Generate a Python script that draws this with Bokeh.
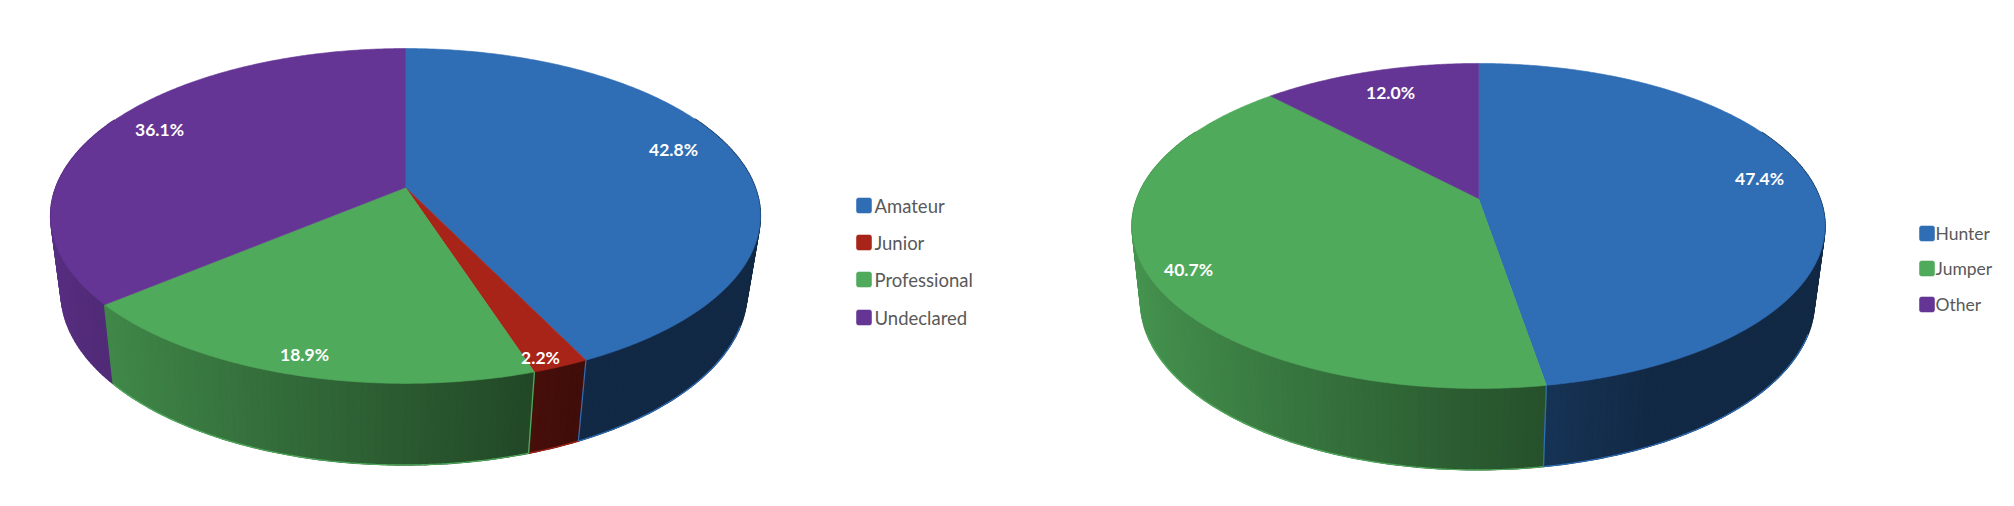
import numpy as np
from bokeh.plotting import figure
from bokeh.core.properties import value
from bokeh.embed import file_html
from bokeh.resources import INLINE

# ---- data ----
left_categories = ["Amateur", "Junior", "Professional", "Undeclared"]
left_values = [42.8, 2.2, 18.9, 36.1]
right_categories = ["Hunter", "Jumper", "Other"]
right_values = [47.4, 40.7, 12.0]

BLUE = (47, 109, 181)
RED = (168, 35, 24)
GREEN = (80, 170, 91)
PURPLE = (100, 53, 148)
left_colors = [BLUE, RED, GREEN, PURPLE]
right_colors = [BLUE, GREEN, PURPLE]


def hexc(c, f=1.0):
    return "#%02x%02x%02x" % tuple(int(min(255, round(x * f))) for x in c)


# ---- layout: perspective of each pie, in page pixels ----
left_geom = dict(x=405.0, y=187.0, a=349.7, b=130.8, k=-0.170,
                 x2=403.5, y2=262.3, a2=338.0, b2=123.2)
right_geom = dict(x=1478.0, y=198.0, a=341.5, b=124.4, k=-0.169,
                  x2=1477.0, y2=273.0, a2=332.0, b2=117.0)
left_label_pos = [(673, 149), (540, 357), (304, 354), (159, 129)]
right_label_pos = [(1759, 178), (1188, 269), (1390, 92)]
left_legend = dict(sw=856, tx=874, ys=[205, 242, 279, 317], size="18.5px")
right_legend = dict(sw=1919, tx=1935, ys=[233, 268, 304], size="17.5px")
left_edge_colors = [BLUE, GREEN, None]
right_edge_colors = [BLUE, None]

W, H = 2000, 498
p = figure(width=W, height=H, x_range=(0, W), y_range=(H, 0),
           output_backend="svg", toolbar_location=None, min_border=0,
           background_fill_color="white", border_fill_color="white",
           outline_line_color=None)
p.axis.visible = False
p.grid.visible = False


def project(g, t, r=1.0, level="top"):
    u, v = r * np.sin(t), -r * np.cos(t)
    d = 1 + g["k"] * v
    if level == "top":
        return g["x"] + g["a"] * u / d, (g["y"] + g["b"] * v) / d
    return g["x2"] + g["a2"] * u / d, (g["y2"] + g["b2"] * v) / d


def shade(t):
    return float(np.clip(0.53 - 0.354 * np.sin(t), 0.38, 0.9))


def draw_pie(values, colors, g, edges, labels, label_pos, cats, leg):
    vals = np.asarray(values, dtype=float)
    bounds = 2 * np.pi * np.concatenate([[0], np.cumsum(vals)]) / vals.sum()

    # side wall, in strips from the back to the front
    strips = []
    for i, c in enumerate(colors):
        n = max(2, int(np.degrees(bounds[i + 1] - bounds[i])))
        ts = np.linspace(bounds[i], bounds[i + 1], n + 1)
        for t0, t1 in zip(ts[:-1], ts[1:]):
            tm = (t0 + t1) / 2
            if -np.cos(tm) < -0.45:
                continue
            x0, y0 = project(g, t0)
            x1, y1 = project(g, t1)
            x3, y3 = project(g, t1, level="bottom")
            x2, y2 = project(g, t0, level="bottom")
            strips.append((-np.cos(tm), [x0, x1, x3, x2], [y0, y1, y3, y2],
                           hexc(c, shade(tm))))
    strips.sort(key=lambda s: s[0])
    p.patches([s[1] for s in strips], [s[2] for s in strips],
              fill_color=[s[3] for s in strips],
              line_color=[s[3] for s in strips], line_width=1.5)

    # lit lower rim of the wall
    for i, c in enumerate(colors):
        if c == PURPLE:
            continue
        ts = np.linspace(bounds[i], bounds[i + 1], 200)
        ts = ts[-np.cos(ts) > 0.35]
        if len(ts) > 1:
            x, y = project(g, ts, level="bottom")
            p.line(x, y, line_color=hexc(c), line_width=1.2)

    # lit edges between wall sections
    for b, c in zip(bounds[1:-1], edges):
        if c is None:
            continue
        x0, y0 = project(g, b)
        x1, y1 = project(g, b, level="bottom")
        p.line([x0, x1], [y0, y1], line_color=hexc(c), line_width=1.3)

    # top face
    for i, c in enumerate(colors):
        n = max(8, int(np.degrees(bounds[i + 1] - bounds[i]) * 2))
        ts = np.linspace(bounds[i], bounds[i + 1], n + 1)
        x, y = project(g, ts)
        xs = np.concatenate([[g["x"]], x])
        ys = np.concatenate([[g["y"]], y])
        p.patch(xs, ys, fill_color=hexc(c), line_color=hexc(c), line_width=0.6)

    # value labels
    p.text([q[0] for q in label_pos], [q[1] for q in label_pos], text=labels,
           text_color="white", text_font=value("Lato"), text_font_size="17.5px",
           text_font_style="bold", text_align="center", text_baseline="middle")

    # legend
    for name, c, y in zip(cats, colors, leg["ys"]):
        p.quad(left=leg["sw"], right=leg["sw"] + 15, top=y - 7.5, bottom=y + 7.5,
               fill_color=hexc(c), line_color=hexc(c), line_alpha=0.55,
               line_width=1, border_radius=2)
    p.text([leg["tx"]] * len(cats), leg["ys"], text=cats, text_color="#595959",
           text_font=value("Lato"), text_font_size=leg["size"],
           text_align="left", text_baseline="middle")


left_labels = ["%.1f%%" % v for v in left_values]
right_labels = ["%.1f%%" % v for v in right_values]
draw_pie(left_values, left_colors, left_geom, left_edge_colors, left_labels,
         left_label_pos, left_categories, left_legend)
draw_pie(right_values, right_colors, right_geom, right_edge_colors, right_labels,
         right_label_pos, right_categories, right_legend)

open("out.html", "w").write(file_html(p, INLINE))
